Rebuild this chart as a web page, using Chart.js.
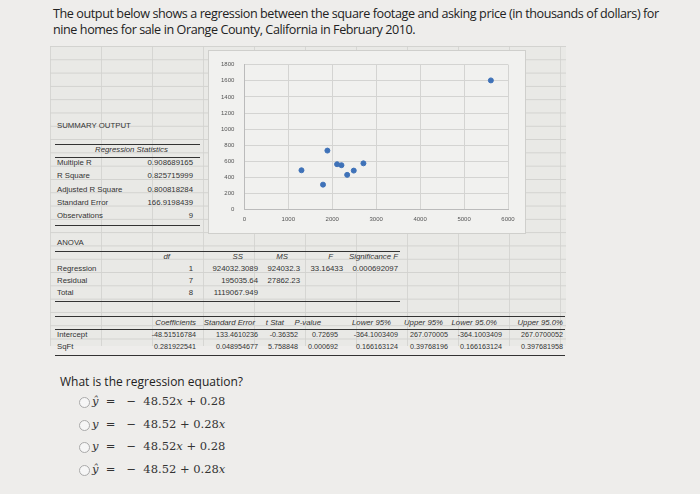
<!DOCTYPE html>
<html><head><meta charset="utf-8">
<script src="https://cdn.jsdelivr.net/npm/chart.js@4.4.0/dist/chart.umd.min.js"></script>
<style>
body{margin:0;width:700px;height:494px;background:#eeedeb;font-family:"Liberation Sans",Arial,sans-serif;position:relative;overflow:hidden;color:#222}
.t{position:absolute;white-space:nowrap}
#sheet{position:absolute;left:50px;top:46px;width:516px;height:300px;background:#e9e9e6;
 background-image:linear-gradient(#d2d2cf 1px,transparent 1px),linear-gradient(90deg,#d6d6d3 1px,transparent 1px);
 background-size:100% 13.3px,51px 100%}
#box{position:absolute;left:208px;top:50px;width:316px;height:182px;background:#f1f1ef;border:1px solid #cfcfcc}
.s{font-size:7.8px;color:#333}
.hr{position:absolute;height:1px;background:#333}
.opt{font-family:"DejaVu Serif",serif;font-size:11.5px;color:#333}
.r{position:absolute;width:9px;height:9px;border:1px solid #aaa;border-radius:50%;background:#f6f6f6}
.ti{font-size:12.6px;font-family:'Open Sans';letter-spacing:-0.42px;line-height:14px}
</style></head><body>
<div class="t ti" style="left:53px;top:7px">The output below shows a regression between the square footage and asking price (in thousands of dollars) for</div>
<div class="t ti" style="left:53px;top:23px">nine homes for sale in Orange County, California in February 2010.</div>
<div id="sheet"></div>
<div id="box"><canvas id="c" width="316" height="182"></canvas></div>
<div id="cells"></div>
<div class="t" style="left:60px;top:373px;font-size:12px;font-family:'Open Sans'">What is the regression equation?</div>
<div id="opts"></div>
<script>
// scatter data (SqFt vs price in $1000s)
const sqft = [1300, 1790, 1890, 2110, 2210, 2340, 2490, 2710, 5610];
const price = [490, 312, 734, 565, 553, 433, 486, 576, 1604];
const xTicks = [0, 1000, 2000, 3000, 4000, 5000, 6000];

new Chart(document.getElementById('c'), {
  type: 'scatter',
  data: { datasets: [{ data: sqft.map((x, i) => ({ x, y: price[i] })), backgroundColor: '#3f72b8', borderColor: '#3f72b8', pointRadius: 2.5 }] },
  options: {
    responsive: false, animation: false,
    layout: { padding: { top: 7, right: 17, left: 2, bottom: 4 } },
    plugins: { legend: { display: false }, tooltip: { enabled: false } },
    scales: {
      x: { min: 0, max: 6000, afterBuildTicks: a => { a.ticks = xTicks.map(v => ({ value: v })); },
           grid: { color: '#d4d4d2', drawTicks: false }, border: { color: '#bbb' },
           ticks: { font: { size: 6 }, color: '#555', padding: 6, callback: v => String(v) } },
      y: { min: 0, max: 1800, ticks: { stepSize: 200, font: { size: 6 }, color: '#555', padding: 10, callback: v => String(v) },
           grid: { color: '#d4d4d2', drawTicks: false }, border: { color: '#bbb' } }
    }
  }
});

const cells = document.getElementById('cells');
function put(text, x, y, align, extra) {
  const d = document.createElement('div');
  d.className = 't s';
  d.textContent = text;
  d.style.top = y + 'px';
  if (align === 'r') { d.style.right = (700 - x) + 'px'; } else { d.style.left = x + 'px'; }
  if (extra) d.style.cssText += extra;
  cells.appendChild(d);
}
function line(x, y, w) { const d = document.createElement('div'); d.className = 'hr'; d.style.cssText = `left:${x}px;top:${y}px;width:${w}px`; cells.appendChild(d); }

put('SUMMARY OUTPUT', 57, 121);
line(55, 144, 145);
put('Regression Statistics', 95, 145, 'l', 'font-style:italic');
line(55, 157, 145);
const statLabels = ['Multiple R', 'R Square', 'Adjusted R Square', 'Standard Error', 'Observations'];
const statValues = ['0.908689165', '0.825715999', '0.800818284', '166.9198439', '9'];
statLabels.forEach((l, i) => { put(l, 57, 158 + i * 13.3); put(statValues[i], 193, 158 + i * 13.3, 'r'); });
line(55, 225, 145);

put('ANOVA', 57, 238);
line(55, 251, 345);
const anovaHead = ['df', 'SS', 'MS', 'F', 'Significance F'];
const anovaRight = [170, 243, 288, 333, 398];
anovaHead.forEach((h, i) => put(h, anovaRight[i], 252, 'r', 'font-style:italic'));
const anovaRows = [['Regression', '1', '924032.3089', '924032.3', '33.16433', '0.000692097'],
                   ['Residual', '7', '195035.64', '27862.23', '', ''],
                   ['Total', '8', '1119067.949', '', '', '']];
const anovaCols = [193, 258, 300, 343, 398];
anovaRows.forEach((r, i) => { put(r[0], 57, 264 + i * 12); r.slice(1).forEach((v, j) => put(v, anovaCols[j], 264 + i * 12, 'r')); });
line(55, 301, 345);

line(55, 316, 510);
const coefHead = ['Coefficients', 'Standard Error', 't Stat', 'P-value', 'Lower 95%', 'Upper 95%', 'Lower 95.0%', 'Upper 95.0%'];
const coefCols = [196, 255, 284, 321, 391, 443, 497, 563];
coefHead.forEach((h, i) => put(h, coefCols[i], 318, 'r', 'font-style:italic'));
line(55, 329, 510);
const coefRows = [['Intercept', '-48.51516784', '133.4610236', '-0.36352', '0.72695', '-364.1003409', '267.070005', '-364.1003409', '267.0700052'],
                  ['SqFt', '0.281922541', '0.048954677', '5.758848', '0.000692', '0.166163124', '0.39768196', '0.166163124', '0.397681958']];
const coefValCols = [196, 258, 298, 338, 398, 448, 502, 563];
coefRows.forEach((r, i) => { put(r[0], 57, 330 + i * 12); r.slice(1).forEach((v, j) => put(v, coefValCols[j], 330 + i * 12, 'r', 'font-size:7.2px')); });
line(55, 355, 510);

const options = [['ŷ', '48.52<i>x</i> + 0.28'], ['<i>y</i>', '48.52 + 0.28<i>x</i>'], ['<i>y</i>', '48.52<i>x</i> + 0.28'], ['ŷ', '48.52 + 0.28<i>x</i>']];
const opts = document.getElementById('opts');
options.forEach((o, i) => {
  const y = 394 + i * 22.5;
  const r = document.createElement('div'); r.className = 'r'; r.style.left = '79px'; r.style.top = (y + 3) + 'px'; opts.appendChild(r);
  const t = document.createElement('div'); t.className = 't opt'; t.innerHTML = `<i>${o[0]}</i>&nbsp;&nbsp;=&nbsp;&nbsp;&nbsp;−&nbsp;&nbsp;${o[1]}`; t.style.left = '92px'; t.style.top = y + 'px'; opts.appendChild(t);
});
</script>
</body></html>
